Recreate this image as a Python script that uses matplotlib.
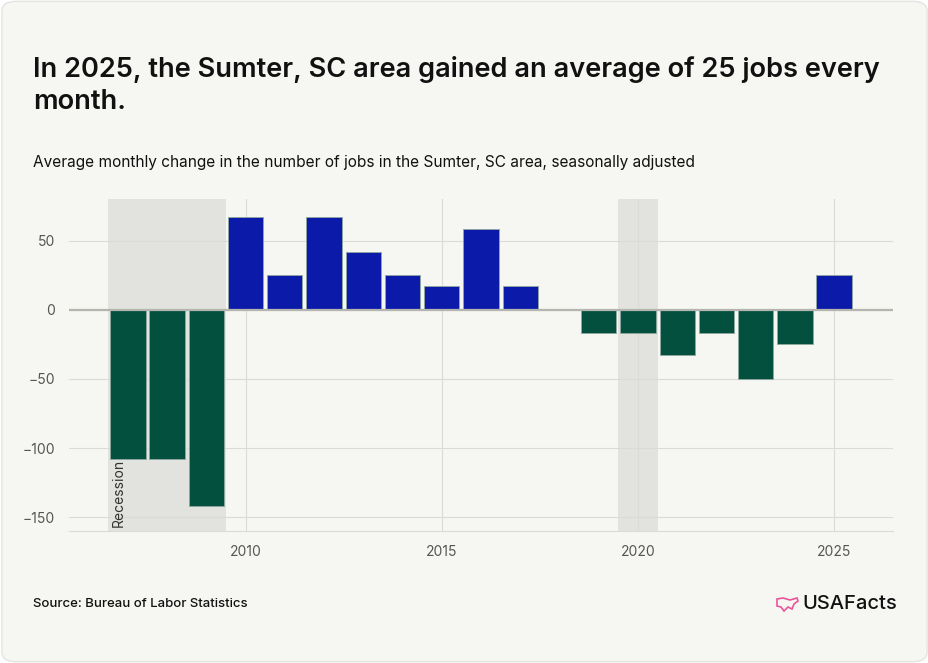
import matplotlib.pyplot as plt
import numpy as np
from matplotlib.patches import FancyBboxPatch, Polygon

plt.rcParams['font.family'] = ['Inter', 'DejaVu Sans']

# data
years = [2007, 2008, 2009, 2010, 2011, 2012, 2013, 2014, 2015, 2016,
         2017, 2018, 2019, 2020, 2021, 2022, 2023, 2024, 2025]
avg_change = [-108, -108, -142, 67, 25, 67, 42, 25, 17, 58,
              17, np.nan, -17, -17, -33, -17, -50, -25, 25]
recessions = [(2006.5, 2009.5), (2019.5, 2020.5)]
yticks = [-150, -100, -50, 0, 50]
xticks = [2010, 2015, 2020, 2025]

bg = '#F6F6F2'
blue = '#0C1AAA'
green = '#03503F'

fig = plt.figure(figsize=(9.29, 6.63), dpi=100)
fig.patch.set_facecolor('white')
card = FancyBboxPatch((0.002, 0.002), 0.996, 0.996, boxstyle='round,pad=0,rounding_size=0.015',
                      transform=fig.transFigure, facecolor=bg, edgecolor='#E4E4E0', lw=1, zorder=-5)
fig.patches.append(card)

ax = fig.add_axes([0.0743, 0.1991, 0.8869, 0.5007])
ax.set_zorder(2)
ax.patch.set_alpha(0)

for x0, x1 in recessions:
    ax.axvspan(x0, x1, color='#E2E2DE', zorder=0, lw=0)

colors = [blue if (v == v and v > 0) else green for v in avg_change]
ax.bar(years, avg_change, width=0.9, color=colors, edgecolor='#8FA8A0', linewidth=0.6, zorder=3)

ax.set_xlim(2005.5, 2026.5)
ax.set_ylim(-160, 80)
ax.set_yticks(yticks)
ax.set_xticks(xticks)
ax.grid(True, color='#DADAD6', lw=0.8, zorder=1)
ax.set_axisbelow(True)
ax.axhline(0, color='#B5B5B0', lw=1.6, zorder=4)
ax.tick_params(length=0, labelsize=10, colors='#555555')
ax.tick_params(axis='y', pad=10)
ax.tick_params(axis='x', pad=10)
for s in ['top', 'right', 'left']:
    ax.spines[s].set_visible(False)
ax.spines['bottom'].set_color('#DADAD6')

ax.text(2006.58, -157, 'Recession', rotation=90, fontsize=10, color='#333333',
        ha='left', va='bottom', zorder=5)

fig.text(0.0355, 0.915, 'In 2025, the Sumter, SC area gained an average of 25 jobs every\nmonth.',
         fontsize=19.6, fontweight='semibold', color='#111111', va='top', ha='left', linespacing=1.3)
fig.text(0.0355, 0.755, 'Average monthly change in the number of jobs in the Sumter, SC area, seasonally adjusted',
         fontsize=11.1, color='#111111', va='center', ha='left')
fig.text(0.0355, 0.089, 'Source: Bureau of Labor Statistics', fontsize=9.5, fontweight='medium',
         color='#111111', va='center', ha='left')
fig.text(0.966, 0.089, 'USAFacts', fontsize=14.5, fontweight='medium', color='#111111',
         va='center', ha='right')

# rough map outline for the logo, in pixel coordinates
W, H = 929, 663
logo_px = [(777, 599), (783, 598), (790, 600), (797, 598), (798, 601), (794, 604),
           (792, 609), (788, 607), (784, 611), (781, 607), (777, 606)]
logo = Polygon([(x / W, 1 - y / H) for x, y in logo_px], closed=True, transform=fig.transFigure,
               facecolor='none', edgecolor='#E8559A', lw=1.2)
fig.patches.append(logo)

fig.savefig('out.png', dpi=100, facecolor='white')
